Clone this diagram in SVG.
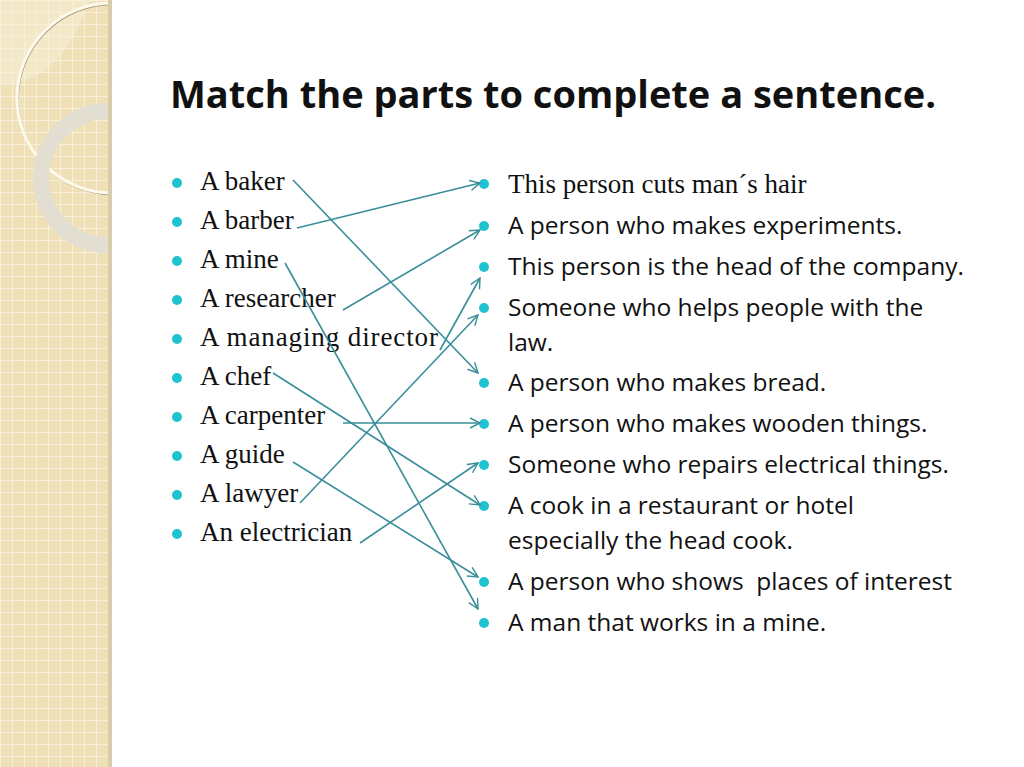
<svg xmlns="http://www.w3.org/2000/svg" width="1024" height="767" viewBox="0 0 1024 767">
<style>
.l{font-family:"Liberation Serif",serif;font-size:27px;fill:#111}
.r{font-family:"Open Sans","Liberation Sans",sans-serif;font-size:24.5px;fill:#111}
.b{fill:#1fc3d0}
.c{stroke:#3a8e9a;stroke-width:1.6;fill:none;marker-end:url(#a)}
</style>
<defs>
<marker id="a" viewBox="0 0 12 12" refX="11" refY="6" markerWidth="12" markerHeight="12" markerUnits="userSpaceOnUse" orient="auto"><path d="M1,1 L11,6 L1,11" fill="none" stroke="#3a8e9a" stroke-width="1.4"/></marker>
<pattern id="g" width="12" height="12" patternUnits="userSpaceOnUse"><rect width="12" height="12" fill="#efe0b8"/><path d="M0,0.5H12M0.5,0V12" stroke="#f8f0da" stroke-width="1"/></pattern>
<clipPath id="cl"><rect width="111" height="767"/></clipPath>
</defs>
<rect width="1024" height="767" fill="#fff"/>
<g id="strip">
<rect width="111" height="767" fill="url(#g)"/>
<g clip-path="url(#cl)">
<path d="M0,85 Q60,85 90,0 L0,0Z" fill="#f7efd8" opacity="0.5"/>
<circle cx="112" cy="98" r="95" fill="none" stroke="#a89878" stroke-width="1.5" transform="translate(1,1.5)"/>
<circle cx="112" cy="98" r="95" fill="none" stroke="#fdf9ec" stroke-width="3"/>
<circle cx="108" cy="178" r="67" fill="none" stroke="#e3ded2" stroke-width="16"/>
</g>
<rect x="108" y="0" width="4" height="767" fill="#d9ccad"/>
</g>
<text x="170" y="108" font-family="'Open Sans','Liberation Sans',sans-serif" font-size="38" font-weight="bold" fill="#111">Match the parts to complete a sentence.</text>
<g id="left">
<circle class="b" cx="177" cy="183" r="5"/><text class="l" x="200" y="190">A baker</text>
<circle class="b" cx="177" cy="222" r="5"/><text class="l" x="200" y="229">A barber</text>
<circle class="b" cx="177" cy="261" r="5"/><text class="l" x="200" y="268">A mine</text>
<circle class="b" cx="177" cy="300" r="5"/><text class="l" x="200" y="307">A researcher</text>
<circle class="b" cx="177" cy="339" r="5"/><text class="l" x="200" y="346" textLength="238">A managing director</text>
<circle class="b" cx="177" cy="378" r="5"/><text class="l" x="200" y="385">A chef</text>
<circle class="b" cx="177" cy="417" r="5"/><text class="l" x="200" y="424">A carpenter</text>
<circle class="b" cx="177" cy="456" r="5"/><text class="l" x="200" y="463">A guide</text>
<circle class="b" cx="177" cy="495" r="5"/><text class="l" x="200" y="502">A lawyer</text>
<circle class="b" cx="177" cy="534" r="5"/><text class="l" x="200" y="541">An electrician</text>
</g>
<g id="right">
<circle class="b" cx="484" cy="184" r="5"/><text x="508" y="193" font-family="'Liberation Serif',serif" font-size="27" fill="#111">This person cuts man´s hair</text>
<circle class="b" cx="484" cy="226" r="5"/><text class="r" x="508" y="234">A person who makes experiments.</text>
<circle class="b" cx="484" cy="267" r="5"/><text class="r" x="508" y="275">This person is the head of the company.</text>
<circle class="b" cx="484" cy="308" r="5"/><text class="r" x="508" y="316">Someone who helps people with the</text><text class="r" x="508" y="351">law.</text>
<circle class="b" cx="484" cy="383" r="5"/><text class="r" x="508" y="391">A person who makes bread.</text>
<circle class="b" cx="484" cy="424" r="5"/><text class="r" x="508" y="432">A person who makes wooden things.</text>
<circle class="b" cx="484" cy="465" r="5"/><text class="r" x="508" y="473">Someone who repairs electrical things.</text>
<circle class="b" cx="484" cy="506" r="5"/><text class="r" x="508" y="514">A cook in a restaurant or hotel</text><text class="r" x="508" y="549">especially the head cook.</text>
<circle class="b" cx="484" cy="582" r="5"/><text class="r" x="508" y="590" xml:space="preserve">A person who shows  places of interest</text>
<circle class="b" cx="484" cy="623" r="5"/><text class="r" x="508" y="631">A man that works in a mine.</text>
</g>
<g id="connectors">
<path class="c" d="M293,180 L478,373"/>
<path class="c" d="M297,228 L480,183"/>
<path class="c" d="M285,263 L478,609"/>
<path class="c" d="M343,310 L480,230"/>
<path class="c" d="M440,350 L480,278"/>
<path class="c" d="M273,373 L480,505"/>
<path class="c" d="M343,423 L480,423"/>
<path class="c" d="M293,462 L478,577"/>
<path class="c" d="M300,503 L478,315"/>
<path class="c" d="M360,543 L478,463"/>
</g>
</svg>
